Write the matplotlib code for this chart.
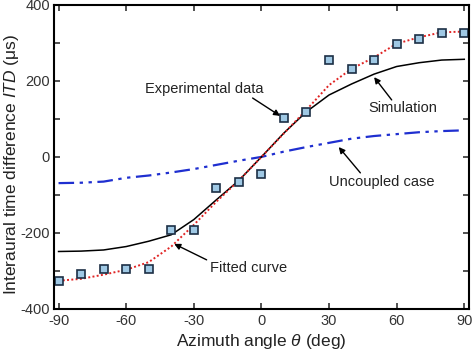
import numpy as np
import matplotlib
matplotlib.use("Agg")
import matplotlib.pyplot as plt

plt.rcParams['font.family'] = ['Liberation Sans', 'DejaVu Sans']
plt.rcParams['mathtext.fontset'] = 'custom'
plt.rcParams['mathtext.it'] = 'Liberation Sans:italic'
plt.rcParams['mathtext.rm'] = 'Liberation Sans'
plt.rcParams['axes.unicode_minus'] = False

# angles (deg)
angle = [-90, -80, -70, -60, -50, -40, -30, -20, -10, 0, 10, 20, 30, 40, 50, 60, 70, 80, 90]

# measured points
exp_itd = [-326, -307, -294, -294, -294, -193, -193, -82, -67, -46,
           102, 119, 254, 232, 254, 298, 310, 327, 327]

# simulation (solid black)
sim_itd = [-249, -248, -245, -236, -222, -205, -165, -113, -62, 0,
           63, 119, 163, 192, 218, 238, 248, 255, 257]

# fitted curve (red dotted)
fit_itd = [-326, -321, -310, -297, -277, -236, -179, -118, -62, 0,
           62, 124, 189, 232, 262, 298, 315, 328, 330]

# uncoupled case (blue dash-dot)
unc_itd = [-69, -68, -65, -55, -49, -41, -32, -21, -10, 0,
           14, 26, 37, 48, 55, 60, 65, 68, 70]

fig = plt.figure(figsize=(4.74, 3.55), dpi=100)
ax = fig.add_axes([0.114, 0.130, 0.875, 0.856])

ax.plot(angle, unc_itd, color='#1f2fd0', lw=1.6, dashes=(7, 2.5, 1.5, 2.5, 1.5, 2.5))
ax.plot(angle, sim_itd, color='black', lw=1.1)
ax.plot(angle, fit_itd, color='#e02424', lw=1.4, ls=(0, (1, 1.2)))
ax.plot(angle, exp_itd, ls='none', marker='s', ms=6, mfc='#9fc8e4', mec='#1c2f45', mew=1.2)

ax.set_xlim(-92, 92)
ax.set_ylim(-400, 400)
ax.set_xticks([-90, -60, -30, 0, 30, 60, 90])
ax.set_yticks([-400, -200, 0, 200, 400])
ax.set_yticks([-300, -100, 100, 300], minor=True)
ax.tick_params(which='both', direction='in', top=True, right=True, length=4, width=1.2,
               labelsize=10.5, colors='#333333', labelcolor='#333333')
ax.tick_params(axis='y', pad=3)
for s in ax.spines.values():
    s.set_linewidth(1.5)

ax.set_xlabel(r'Azimuth angle $\theta$ (deg)', fontsize=12.5, color='#222222', labelpad=3)
ax.set_ylabel(r'Interaural time difference $ITD$ ($\mathrm{\mu}$s)', fontsize=12.5, color='#222222')
ax.yaxis.set_label_coords(-0.08, 0.474)

arrow = dict(arrowstyle='-|>', color='black', lw=1.0, mutation_scale=9, shrinkA=0, shrinkB=0)
ax.text(-25.2, 179, 'Experimental data', fontsize=10.5, ha='center', va='center', color='#222222')
ax.annotate('', xy=(8.3, 108), xytext=(-3.9, 155), arrowprops=arrow)
ax.text(62.6, 129, 'Simulation', fontsize=10.5, ha='center', va='center', color='#222222')
ax.annotate('', xy=(50, 210), xytext=(57.8, 150), arrowprops=arrow)
ax.text(53.5, -66, 'Uncoupled case', fontsize=10.5, ha='center', va='center', color='#222222')
ax.annotate('', xy=(34.3, 26), xytext=(43.9, -42), arrowprops=arrow)
ax.text(-5.7, -292, 'Fitted curve', fontsize=10.5, ha='center', va='center', color='#222222')
ax.annotate('', xy=(-38.7, -229), xytext=(-24.3, -271), arrowprops=arrow)

fig.savefig('out.png', dpi=100)
